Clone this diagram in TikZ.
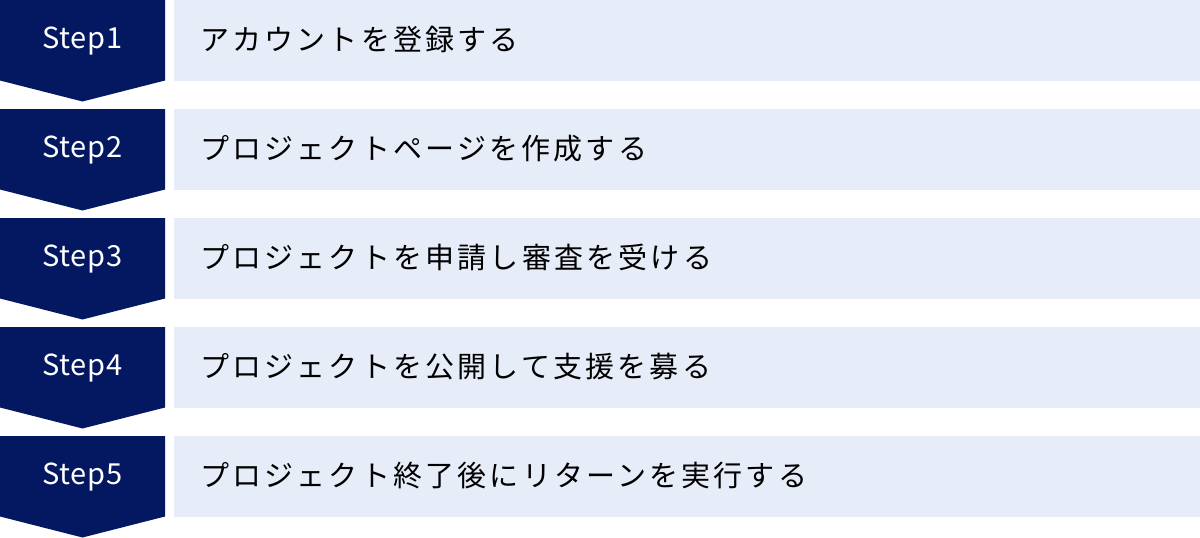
\documentclass[tikz,border=0pt]{standalone}
\usepackage{fontspec}
\setmainfont{Noto Sans CJK JP}
\newfontfamily\jpfont{Noto Sans CJK JP}[LetterSpace=11]
\newfontfamily\stepfont{Noto Sans CJK JP}[LetterSpace=2]
\definecolor{navy}{HTML}{041862}
\definecolor{pale}{HTML}{E6ECF8}
\tikzset{
  stepfill/.style={fill=navy, draw=none},
  barfill/.style={fill=pale, draw=none},
  steplabel/.style={text=white, font=\stepfont\fontsize{29}{33}\selectfont, inner sep=0pt, anchor=center},
  barlabel/.style={text=black, font=\jpfont\fontsize{29}{33}\selectfont, inner sep=0pt, anchor=west},
}
\begin{document}
\begin{tikzpicture}[x=1pt,y=-1pt]
\useasboundingbox (0,0) rectangle (1200,538);
\foreach \i/\t in {0/アカウントを登録する,1/プロジェクトページを作成する,2/プロジェクトを申請し審査を受ける,3/プロジェクトを公開して支援を募る,4/プロジェクト終了後にリターンを実行する}{
  \pgfmathsetmacro{\y}{\i*109}
  \pgfmathtruncatemacro{\n}{\i+1}
  \fill[stepfill] (0,\y) -- (165,\y) -- (165,\y+80.5) -- (82.5,\y+101.5) -- (0,\y+80.5) -- cycle;
  \fill[barfill] (174,\y) rectangle (1200,\y+80.5);
  \node[steplabel] (s\n) at (82.5,\y+41) {Step\n};
  \node[barlabel] (t\n) at (200,\y+39.5) {\t};
}
\end{tikzpicture}
\end{document}
